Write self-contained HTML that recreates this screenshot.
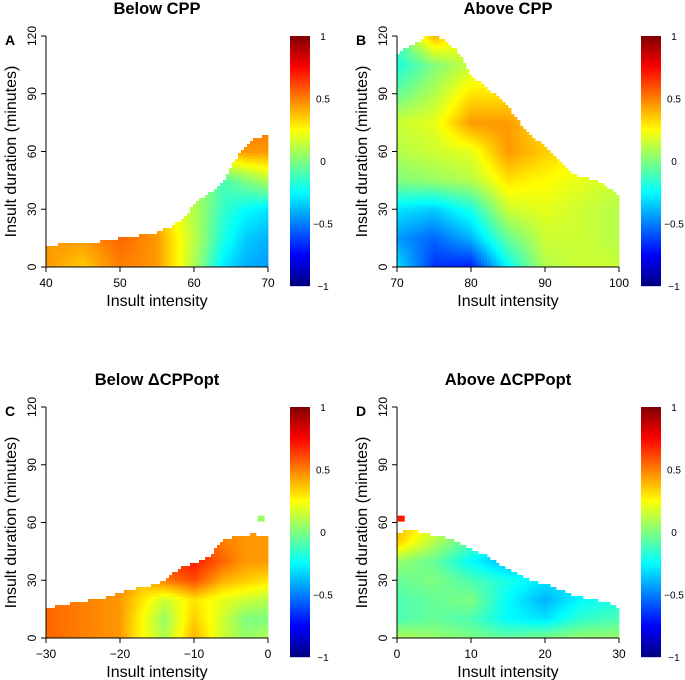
<!DOCTYPE html>
<html><head><meta charset="utf-8">
<style>
html,body{margin:0;padding:0;background:#fff;}
svg{display:block;font-family:"Liberation Sans",sans-serif;}
</style></head>
<body>
<svg id="chart" width="685" height="680" viewBox="0 0 685 680"></svg>
<script>
// ---------- Panel A data ----------
const aTitle = "Below CPP";
const aXTicks = [40, 50, 60, 70];
const aBoundX = [40, 41, 42, 45, 47, 50, 52, 55, 57, 59, 60, 62, 64, 65, 66, 68, 70];
const aBoundTop = [10, 11, 12, 13, 13, 15, 16, 18, 21, 27, 33, 38, 44, 52, 58, 66, 69];
const aGridX = [40, 45, 50, 55, 58, 61, 64, 67, 70];
const aGridY = [0, 15, 30, 45, 60, 70];
const aValues = [
  [0.45, 0.35, 0.5, 0.45, 0.25, 0.0, -0.3, -0.4, -0.45],
  [0.45, 0.45, 0.55, 0.45, 0.25, 0.05, -0.2, -0.35, -0.4],
  [0.4, 0.4, 0.5, 0.4, 0.2, 0.05, -0.15, -0.25, -0.3],
  [0.3, 0.3, 0.3, 0.3, 0.2, 0.05, -0.1, 0.0, 0.1],
  [0.4, 0.4, 0.4, 0.4, 0.4, 0.35, 0.4, 0.45, 0.45],
  [0.45, 0.45, 0.45, 0.45, 0.45, 0.45, 0.45, 0.5, 0.5]
];
// ---------- Panel B data ----------
const bTitle = "Above CPP";
const bXTicks = [70, 80, 90, 100];
const bBoundX = [70, 71, 73, 74, 76, 78, 80, 82, 84, 86, 88, 90, 92, 94, 96, 98, 100];
const bBoundTop = [110, 113, 117, 120, 119, 113, 100, 93, 88, 78, 68, 63, 55, 48, 46, 43, 37];
const bGridX = [70, 75, 80, 85, 90, 95, 100];
const bGridY = [0, 15, 30, 45, 60, 75, 90, 105, 120];
const bValues = [
  [-0.3, -0.65, -0.7, -0.25, 0.1, 0.15, 0.15],
  [-0.45, -0.55, -0.4, -0.05, 0.15, 0.15, 0.1],
  [-0.3, -0.35, -0.2, 0.15, 0.2, 0.15, 0.1],
  [0.0, 0.05, 0.1, 0.3, 0.25, 0.2, 0.15],
  [0.1, 0.15, 0.2, 0.45, 0.35, 0.25, 0.2],
  [0.15, 0.2, 0.45, 0.45, 0.3, 0.2, 0.2],
  [-0.05, 0.1, 0.3, 0.3, 0.2, 0.2, 0.2],
  [-0.2, 0.0, 0.15, 0.2, 0.2, 0.2, 0.2],
  [-0.1, 0.4, 0.2, 0.2, 0.2, 0.2, 0.2]
];
// ---------- Panel C data ----------
const cTitle = "Below \u0394CPPopt";
const cXTicks = [-30, -20, -10, 0];
const cBoundX = [-30, -28, -25, -22, -19, -16, -14, -12, -10, -8, -6, -4, -2, 0];
const cBoundTop = [15, 17, 19, 21, 25, 27, 30, 36, 39, 42, 51, 53, 54, 53];
const cGridX = [-30, -25, -20, -17, -14, -10, -6, -3, 0];
const cGridY = [0, 10, 20, 30, 40, 50];
const cValues = [
  [0.55, 0.5, 0.45, 0.25, 0.1, 0.4, 0.15, 0.05, 0.1],
  [0.55, 0.5, 0.45, 0.25, 0.05, 0.35, 0.15, 0.0, 0.0],
  [0.55, 0.5, 0.45, 0.3, 0.15, 0.3, 0.2, 0.15, 0.1],
  [0.5, 0.5, 0.5, 0.4, 0.5, 0.6, 0.4, 0.35, 0.3],
  [0.5, 0.5, 0.5, 0.5, 0.65, 0.7, 0.55, 0.45, 0.45],
  [0.5, 0.5, 0.5, 0.5, 0.6, 0.6, 0.5, 0.45, 0.45]
];
const cExtra = [-1, 62, 0.05];
// ---------- Panel D data ----------
const dTitle = "Above \u0394CPPopt";
const dXTicks = [0, 10, 20, 30];
const dBoundX = [0, 2, 4, 6, 8, 10, 12, 14, 16, 18, 20, 22, 24, 26, 28, 30];
const dBoundTop = [55, 56, 54, 53, 50, 46, 43, 38, 34, 30, 28, 25, 22, 20, 19, 16];
const dGridX = [0, 5, 10, 15, 20, 25, 30];
const dGridY = [0, 10, 20, 30, 40, 50, 60];
const dValues = [
  [0.1, 0.05, 0.0, -0.05, 0.0, 0.05, 0.05],
  [-0.1, -0.05, -0.1, -0.25, -0.3, -0.15, -0.1],
  [-0.1, -0.05, 0.0, -0.25, -0.4, -0.25, -0.2],
  [-0.05, 0.0, -0.1, -0.2, -0.3, -0.3, -0.3],
  [0.05, -0.05, -0.25, -0.4, -0.3, -0.3, -0.3],
  [0.35, 0.1, -0.1, -0.3, -0.3, -0.3, -0.3],
  [0.4, 0.2, 0.0, -0.2, -0.3, -0.3, -0.3]
];
const dExtra = [0.5, 62, 0.7];
const yTicks = [0, 30, 60, 90, 120];
const cbTicks = [1, 0.5, 0, -0.5, -1];

const NS = "http://www.w3.org/2000/svg";
const svg = document.getElementById("chart");
function mk(tag, attrs, parent) {
  const e = document.createElementNS(NS, tag);
  for (const k in attrs) e.setAttribute(k, attrs[k]);
  (parent || svg).appendChild(e);
  return e;
}
const jetStops = [[0,0,127],[0,0,255],[0,127,255],[0,255,255],[127,255,127],[255,255,0],[255,127,0],[255,0,0],[127,0,0]];
function jet(v) {
  let t = (Math.max(-1, Math.min(1, v)) + 1) / 2 * 8;
  let i = Math.min(7, Math.floor(t)), f = t - i;
  const a = jetStops[i], b = jetStops[i + 1];
  return "rgb(" + [0,1,2].map(k => Math.round(a[k] + (b[k] - a[k]) * f)).join(",") + ")";
}
function lerpArr(xs, ys, x) {
  if (x <= xs[0]) return ys[0];
  for (let i = 1; i < xs.length; i++) if (x <= xs[i]) {
    const f = (x - xs[i-1]) / (xs[i] - xs[i-1]); return ys[i-1] + (ys[i] - ys[i-1]) * f;
  }
  return ys[ys.length - 1];
}
function idx(arr, v) {
  for (let i = 1; i < arr.length; i++) if (v <= arr[i]) return [i-1, (v - arr[i-1]) / (arr[i] - arr[i-1])];
  return [arr.length - 2, 1];
}
function gridVal(gx, gy, vals, x, y) {
  const [i, fx] = idx(gx, Math.max(gx[0], x));
  const [j, fy] = idx(gy, Math.max(gy[0], Math.min(gy[gy.length-1], y)));
  const v00 = vals[j][i], v10 = vals[j][i+1], v01 = vals[j+1][i], v11 = vals[j+1][i+1];
  return (v00*(1-fx)+v10*fx)*(1-fy) + (v01*(1-fx)+v11*fx)*fy;
}
function panel(p) {
  const g = mk("g", {});
  
  
  const x0 = p.px0, x1 = p.px0 + 222, yTop = p.py0, yBot = p.py0 + 231;
  const xmin = p.xTicks[0], xmax = p.xTicks[p.xTicks.length - 1];
  const sx = v => x0 + (v - xmin) / (xmax - xmin) * (x1 - x0);
  const sy = v => yBot - v / 120 * (yBot - yTop);
  const step = 3;
  const hg = mk("g", {}, g);
  
  
  for (let px = x0; px < x1; px += step) {
    const xv = xmin + (px + step/2 - x0) / (x1 - x0) * (xmax - xmin);
    const top = lerpArr(p.bx, p.bt, xv);
    for (let py = yBot - step; py > yTop - step; py -= step) {
      const yv = (yBot - (py + step/2)) / (yBot - yTop) * 120;
      if (yv > top) break;
      const r = mk("rect", {x: px, y: py, width: step + 0.4, height: step + 0.4, fill: jet(gridVal(p.gx, p.gy, p.vals, xv, yv))}, hg);
      
      
    }
  }
  if (p.extra) {
    const r = mk("rect", {x: sx(p.extra[0]) - 3, y: sy(p.extra[1]) - 3, width: 7, height: 6, fill: jet(p.extra[2])}, g);
    
    
  }
  const ax = mk("line", {x1: x0, y1: yBot, x2: x1, y2: yBot, stroke: "#000", "stroke-width": 1}, g);
  
  
  const ay = mk("line", {x1: x0, y1: yTop, x2: x0, y2: yBot, stroke: "#000", "stroke-width": 1}, g);
  
  
  p.xTicks.forEach(t => {
    const tx = sx(t);
    mk("line", {x1: tx, y1: yBot, x2: tx, y2: yBot + 5, stroke: "#000"}, g);
    const tl = mk("text", {x: tx, y: yBot + 20, "text-anchor": "middle", "font-size": 12}, g);
    tl.textContent = t < 0 ? "\u2212" + (-t) : t;
    
    
  });
  yTicks.forEach(t => {
    const ty = sy(t);
    mk("line", {x1: x0 - 5, y1: ty, x2: x0, y2: ty, stroke: "#000"}, g);
    const tl = mk("text", {x: x0 - 10, y: ty, "text-anchor": "middle", "font-size": 12, transform: "rotate(-90 " + (x0 - 10) + " " + ty + ")"}, g);
    tl.textContent = t;
    
    
  });
  const xt = mk("text", {x: (x0 + x1) / 2, y: yBot + 39, "text-anchor": "middle", "font-size": 16}, g);
  xt.textContent = "Insult intensity";
  
  
  const yx = x0 - 30, yy = (yTop + yBot) / 2;
  const yt = mk("text", {x: yx, y: yy, "text-anchor": "middle", "font-size": 16, transform: "rotate(-90 " + yx + " " + yy + ")"}, g);
  yt.textContent = "Insult duration (minutes)";
  
  
  const tt = mk("text", {x: x0 + 111, y: p.py0 - 22, "text-anchor": "middle", "font-size": 16.5, "font-weight": "bold"}, g);
  tt.textContent = p.title;
  
  
  const lt = mk("text", {x: x0 - 41, y: yTop + 9, "text-anchor": "start", "font-size": 14, "font-weight": "bold"}, g);
  lt.textContent = p.letter;
  
  
  const cb = mk("g", {}, g);
  
  
  const cbx = x1 + 22, cbT = yTop, cbB = yTop + 250;
  for (let py = cbT; py < cbB; py++) {
    const v = 1 - (py + 0.5 - cbT) / (cbB - cbT) * 2;
    mk("rect", {x: cbx, y: py, width: 20, height: 1.2, fill: jet(v)}, cb);
  }
  cbTicks.forEach(t => {
    const ty = cbT + (1 - t) / 2 * (cbB - cbT);
    const tl = mk("text", {x: cbx + 33, y: ty + 4, "text-anchor": "middle", "font-size": 10}, cb);
    tl.textContent = t < 0 ? "\u2212" + (-t) : t;
    
    
  });
}
panel({name: "panel-a", letter: "A", title: aTitle, px0: 46, py0: 36, xTicks: aXTicks, bx: aBoundX, bt: aBoundTop, gx: aGridX, gy: aGridY, vals: aValues});
panel({name: "panel-b", letter: "B", title: bTitle, px0: 397, py0: 36, xTicks: bXTicks, bx: bBoundX, bt: bBoundTop, gx: bGridX, gy: bGridY, vals: bValues});
panel({name: "panel-c", letter: "C", title: cTitle, px0: 46, py0: 407, xTicks: cXTicks, bx: cBoundX, bt: cBoundTop, gx: cGridX, gy: cGridY, vals: cValues, extra: cExtra});
panel({name: "panel-d", letter: "D", title: dTitle, px0: 397, py0: 407, xTicks: dXTicks, bx: dBoundX, bt: dBoundTop, gx: dGridX, gy: dGridY, vals: dValues, extra: dExtra});
</script>
</body></html>
